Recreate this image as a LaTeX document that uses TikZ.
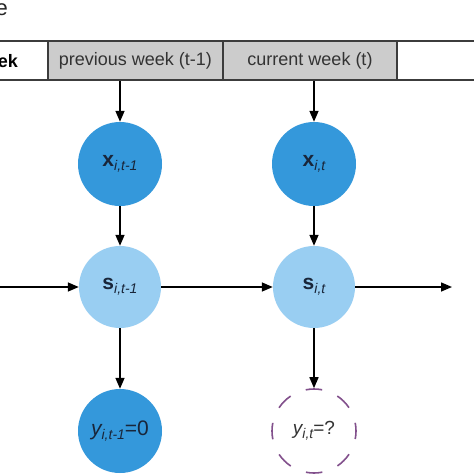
\documentclass[tikz,border=0pt]{standalone}
\usepackage{fontspec}
\setmainfont{Liberation Sans}
\usetikzlibrary{arrows.meta}
\definecolor{xblue}{RGB}{52,152,219}
\definecolor{sblue}{RGB}{153,206,242}
\definecolor{hdrgray}{RGB}{204,204,204}
\definecolor{hdrline}{RGB}{60,60,60}
\definecolor{txtnavy}{RGB}{25,38,58}
\definecolor{qpurple}{RGB}{130,80,140}
\newcommand{\mysub}[1]{\raisebox{-0.35ex}{\fontsize{14}{15}\selectfont\itshape #1}}
\begin{document}
\begin{tikzpicture}[x=1pt,y=-1pt,
  cell/.style={draw=hdrline, line width=1.8pt, minimum height=39pt, inner sep=0pt,
    font=\fontsize{18}{20}\selectfont, text=black!80},
  graycell/.style={cell, fill=hdrgray},
  whitecell/.style={cell, fill=white},
  obsnode/.style={circle, fill=xblue, minimum size=84pt, inner sep=0pt,
    text=txtnavy, font=\fontsize{21}{23}\selectfont},
  statenode/.style={circle, fill=sblue, minimum size=82pt, inner sep=0pt,
    text=txtnavy, font=\fontsize{21}{23}\selectfont},
  unknode/.style={circle, draw=qpurple, line width=1.6pt,
    dash pattern=on 16.5pt off 16.5pt, dash phase=8.25pt,
    minimum size=84pt, inner sep=0pt, text=black!80, font=\fontsize{19}{21}\selectfont},
  conn/.style={line width=1.5pt, -{Triangle[length=11pt,width=9pt]}}
]
\useasboundingbox (0,0) rectangle (474,474);
\fill[white] (0,0) rectangle (474,474);
\begin{scope}
\clip (0,0) rectangle (474,474);
\node[anchor=east, font=\fontsize{22}{24}\selectfont, text=black!85, inner sep=0pt] (ttl) at (8,10) {e};
\node[whitecell, minimum width=68pt] (left) at (14,60.5) {};
\node[anchor=east, font=\fontsize{18}{20}\selectfont\bfseries, inner sep=0pt] (leftlbl) at (18,61) {ek};
\node[graycell, minimum width=175pt] (prev) at (135.5,60.5) {previous week (t-1)};
\node[graycell, minimum width=174pt] (curr) at (310,60.5) {current week (t)};
\node[whitecell, minimum width=90pt] (right) at (442,60.5) {};
\end{scope}

\node[obsnode] (x1) at (120,164) {{\bfseries x}\mysub{i,t-1}};
\node[obsnode] (x2) at (314,164) {{\bfseries x}\mysub{i,t}};
\node[statenode] (s1) at (120,287) {{\bfseries s}\mysub{i,t-1}};
\node[statenode] (s2) at (314,287) {{\bfseries s}\mysub{i,t}};
\node[obsnode] (y1) at (120,431) {{\itshape y}\mysub{i,t-1}=0};
\node[unknode] (y2) at (314,431) {{\itshape y}\mysub{i,t}=?};

\coordinate (lin) at (0,287);
\coordinate (rout) at (452,287);

\draw[conn] (x1.north |- prev.south) -- (x1.north);
\draw[conn] (x2.north |- curr.south) -- (x2.north);
\draw[conn] (x1) -- (s1);
\draw[conn] (x2) -- (s2);
\draw[conn] (s1) -- (y1);
\draw[conn] (s2) -- (y2);
\draw[conn] (lin) -- (s1);
\draw[conn] (s1) -- (s2);
\draw[conn] (s2) -- (rout);
\end{tikzpicture}
\end{document}
